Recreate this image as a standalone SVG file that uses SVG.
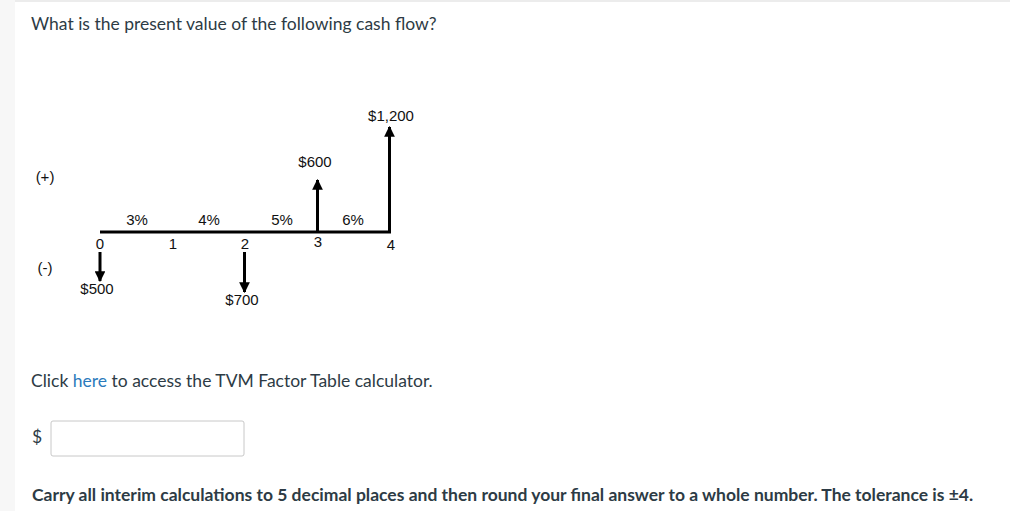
<svg xmlns="http://www.w3.org/2000/svg" width="1010" height="511" viewBox="0 0 1010 511">
<defs>
<style>
.q{font-family:Lato,"Open Sans",sans-serif;font-size:17.5px;fill:#2d3b45}
.b{font-weight:bold}
.d{font-family:"Liberation Sans",Arial,sans-serif;font-size:15px;fill:#111}
.ax{stroke:#000;stroke-width:3;fill:none}
.ar{stroke:#000;stroke-width:3;fill:none}
</style>
<marker id="ah" viewBox="0 0 10 10" refX="9" refY="5" markerWidth="3.6" markerHeight="3.6" markerUnits="strokeWidth" orient="auto">
<path d="M0,0 L10,5 L0,10 z" fill="#000"/>
</marker>
</defs>
<rect x="0" y="0" width="1010" height="511" fill="#fff"/>
<rect x="0" y="0" width="15" height="511" fill="#f7f7f7"/>
<line x1="15" y1="1" x2="1010" y2="1" stroke="#e6e6e6" stroke-width="1.5"/>
<text class="q" x="31" y="30">What is the present value of the following cash flow?</text>

<g id="axis">
<line class="ax" x1="100" y1="232" x2="391" y2="232"/>
</g>
<g id="labels">
<text class="d" x="45" y="182" text-anchor="middle">(+)</text>
<text class="d" x="45" y="273" text-anchor="middle">(-)</text>
<text class="d" x="137" y="225" text-anchor="middle">3%</text>
<text class="d" x="209" y="225" text-anchor="middle">4%</text>
<text class="d" x="282" y="225" text-anchor="middle">5%</text>
<text class="d" x="353" y="225" text-anchor="middle">6%</text>
<text class="d" x="100" y="249" text-anchor="middle">0</text>
<text class="d" x="173" y="249" text-anchor="middle">1</text>
<text class="d" x="245" y="249" text-anchor="middle">2</text>
<text class="d" x="318" y="247" text-anchor="middle">3</text>
<text class="d" x="391" y="250" text-anchor="middle">4</text>
</g>
<g id="connectors">
<line class="ar" x1="100" y1="252" x2="100" y2="281" marker-end="url(#ah)"/>
<line class="ar" x1="244.5" y1="252" x2="244.5" y2="292" marker-end="url(#ah)"/>
<line class="ar" x1="317.5" y1="233" x2="317.5" y2="180" marker-end="url(#ah)"/>
<line class="ar" x1="389.5" y1="233" x2="389.5" y2="127" marker-end="url(#ah)"/>
</g>
<g id="cf0"><text class="d" x="97" y="294" text-anchor="middle">$500</text></g>
<g id="cf2"><text class="d" x="242" y="305" text-anchor="middle">$700</text></g>
<g id="cf3"><text class="d" x="315" y="167" text-anchor="middle">$600</text></g>
<g id="cf4"><text class="d" x="391" y="121" text-anchor="middle">$1,200</text></g>

<text class="q" x="31" y="387">Click <tspan fill="#2b7abc">here</tspan> to access the TVM Factor Table calculator.</text>
<text class="q" x="32" y="443">$</text>
<rect x="51" y="421" width="193" height="35" rx="2" fill="#fff" stroke="#c8c8c8" stroke-width="1"/>
<text class="q b" x="32" y="501">Carry all interim calculations to 5 decimal places and then round your final answer to a whole number. The tolerance is ±4.</text>
</svg>
